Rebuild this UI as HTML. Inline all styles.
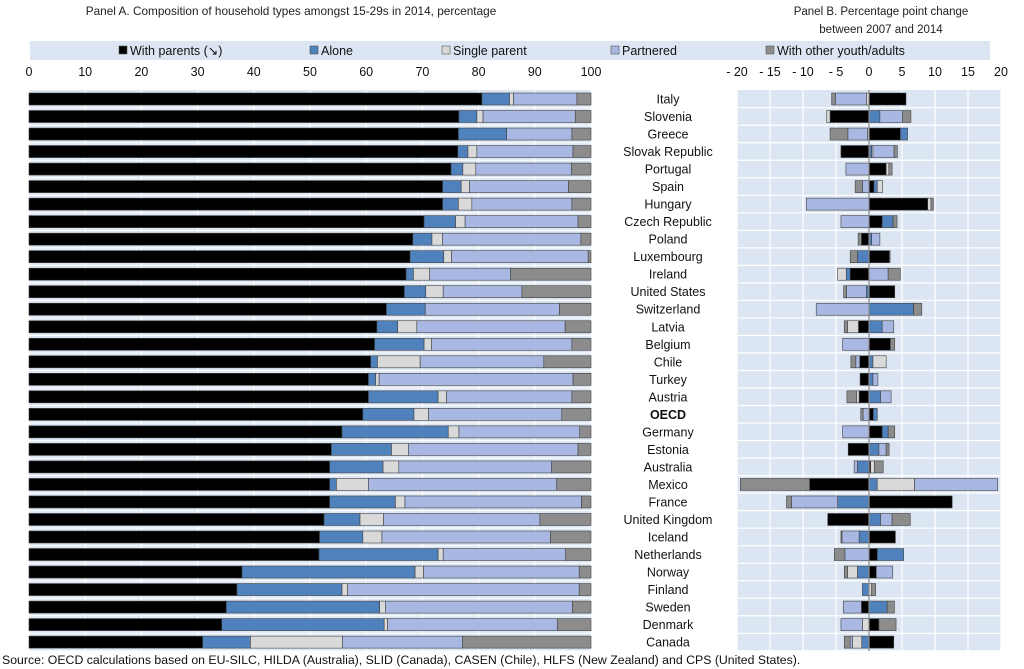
<!DOCTYPE html>
<html><head><meta charset="utf-8">
<style>
body{margin:0;background:#fff;width:1024px;height:669px;overflow:hidden;font-family:"Liberation Sans",sans-serif}
svg{display:block}
</style></head>
<body>
<svg id="chart" width="1024" height="669" xmlns="http://www.w3.org/2000/svg"></svg>
<script>
const countries=["Italy","Slovenia","Greece","Slovak Republic","Portugal","Spain","Hungary","Czech Republic","Poland","Luxembourg","Ireland","United States","Switzerland","Latvia","Belgium","Chile","Turkey","Austria","OECD","Germany","Estonia","Australia","Mexico","France","United Kingdom","Iceland","Netherlands","Norway","Finland","Sweden","Denmark","Canada"];
const seriesNames=["With parents (\u2198)","Alone","Single parent","Partnered","With other youth/adults"];
const seriesKeys=["parents","alone","single","partnered","other"];
// Panel A: cumulative end points (percent) per series; last series ends at 100
const cumParents=[80.6,76.5,76.4,76.3,75.1,73.6,73.6,70.3,68.3,67.8,67.1,66.8,63.6,61.9,61.5,60.8,60.4,60.4,59.4,55.7,53.8,53.5,53.5,53.5,52.5,51.7,51.6,37.9,37.0,35.1,34.3,30.9];
const cumAlone=[85.5,79.7,85.0,78.1,77.2,76.9,76.4,75.9,71.7,73.8,68.4,70.6,70.5,65.6,70.3,62.0,61.7,72.8,68.5,74.6,64.5,63.0,54.7,65.2,58.9,59.4,72.8,68.7,55.7,62.4,63.2,39.4];
const cumSingle=[86.2,80.8,85.0,79.7,79.5,78.4,78.8,77.6,73.6,75.2,71.3,73.7,70.5,69.0,71.6,69.6,62.3,74.3,71.1,76.5,67.5,65.8,60.4,66.9,63.1,62.8,73.7,70.2,56.7,63.4,63.8,55.8];
const cumPartnered=[97.5,97.2,96.6,96.8,96.5,96.0,96.6,97.7,98.2,99.5,85.7,87.7,94.4,95.4,96.6,91.6,96.8,96.6,94.8,98.0,97.7,93.0,93.9,98.3,90.9,92.8,95.5,97.9,97.9,96.7,94.0,77.1];
// Panel B: percentage point changes 2007-2014
const chgParents=[5.6,-5.9,4.75,-4.25,2.6,0.75,8.9,2.0,-1.15,3.1,-2.85,3.9,0,-1.6,3.25,-1.4,-1.35,-1.5,0.65,2.0,-3.15,0.25,-9.0,12.6,-6.25,4.0,1.25,1.1,0,-1.15,1.5,3.75];
const chgAlone=[0,1.65,1.1,0.4,0,0.5,0,1.65,0.4,-1.75,-0.6,-0.4,6.75,2.0,0,0.6,0.6,1.75,0.6,0.9,1.5,-1.75,1.25,-4.75,1.75,-1.5,4.0,-1.75,-1.0,2.75,0,-1.1];
const chgSingle=[-0.4,-0.5,-0.2,0.2,0.4,0.8,0.5,0,0,0.1,-1.3,0,0,-1.65,0,2.0,0,-0.4,0,0,0,0.6,5.65,0,0,0,0,-1.5,0.4,0,-1.0,-1.4];
const chgPartnered=[-4.7,3.45,-3.0,3.2,-3.5,-1.0,-9.5,-4.25,1.25,0,2.9,-3.0,-8.0,1.75,-4.0,-0.6,0.75,1.6,-0.9,-4.0,1.1,-0.5,12.6,-7.0,1.75,-2.6,-3.65,2.5,0,-2.75,-3.25,-0.35];
const chgOther=[-0.55,1.25,-2.7,0.5,0.5,-1.1,0.35,0.6,-0.5,-1.1,1.85,-0.45,1.25,-0.5,0.65,-0.75,0,-1.45,-0.35,1.0,0.45,1.3,-10.5,-0.75,2.75,-0.15,-1.6,-0.5,0.6,1.1,2.6,-0.9];
const ticksA=[0,10,20,30,40,50,60,70,80,90,100];
const ticksB=[-20,-15,-10,-5,0,5,10,15,20];

const NS="http://www.w3.org/2000/svg";
const svg=document.getElementById('chart');
const colors=["#000000","#4f81bd","#d9d9d9","#a8b8e3","#8c8c8c"];
function mk(tag,attrs,parent){const e=document.createElementNS(NS,tag);for(const k in attrs)e.setAttribute(k,attrs[k]);(parent||svg).appendChild(e);return e;}
function txt(s,attrs,parent){const e=mk('text',attrs,parent);e.textContent=s;return e;}
const xA=v=>29+v*5.62;
const xB=v=>869+v*6.6;
const rowY=i=>99+i*17.52;
const barH=12;
const plotTop=90,plotBot=651;

let t=txt("Panel A. Composition of household types amongst 15-29s in 2014, percentage",{x:291,y:15,'text-anchor':'middle','font-size':11.8,fill:'#222'});


t=txt("Panel B. Percentage point change",{x:881,y:15,'text-anchor':'middle','font-size':11.5,fill:'#222'});


t=txt("between 2007 and 2014",{x:881,y:33,'text-anchor':'middle','font-size':11.5,fill:'#222'});



const lg=mk('g',{});


mk('rect',{x:30,y:41,width:960,height:19,fill:'#dce6f2'},lg);
const legX=[119,310,442,611,766];
seriesNames.forEach((n,k)=>{
  const g=mk('g',{},lg);
  
  
  mk('rect',{x:legX[k],y:46,width:8,height:8,fill:colors[k],stroke:'#555','stroke-width':0.6},g);
  txt(n,{x:legX[k]+11,y:55,'font-size':12.5,fill:'#111'},g);
});

const pa=mk('g',{});


mk('rect',{x:xA(0),y:plotTop,width:xA(100)-xA(0),height:plotBot-plotTop,fill:'#dce6f2'},pa);
ticksA.forEach(v=>{
  const l=mk('line',{x1:xA(v),x2:xA(v),y1:plotTop,y2:plotBot,stroke:'#fff','stroke-width':1},pa);
  
  
  const tl=txt(String(v),{x:xA(v),y:76,'text-anchor':'middle','font-size':12.5,fill:'#111'});
  
  
});
countries.forEach((c,i)=>{
  const y=rowY(i);
  mk('line',{x1:xA(0),x2:xA(100),y1:y+8.7,y2:y+8.7,stroke:'#fff','stroke-width':1},pa);
});
countries.forEach((c,i)=>{
  const y=rowY(i);
  const ends=[cumParents[i],cumAlone[i],cumSingle[i],cumPartnered[i],100];
  let prev=0;
  ends.forEach((e,k)=>{
    if(e>prev){
      const r=mk('rect',{x:xA(prev),y:y-barH/2,width:xA(e)-xA(prev),height:barH,fill:colors[k],stroke:'#404040','stroke-width':0.6},pa);
      
      
    }
    prev=e;
  });
});

countries.forEach((c,i)=>{
  const l=txt(c,{x:668,y:rowY(i)+4.5,'text-anchor':'middle','font-size':12.5,fill:'#111','font-weight':c==='OECD'?'bold':'normal'});
  
  
});

const pb=mk('g',{});


mk('rect',{x:xB(-20),y:plotTop,width:xB(20)-xB(-20),height:plotBot-plotTop,fill:'#dce6f2'},pb);
ticksB.forEach(v=>{
  if(v!==0){const l=mk('line',{x1:xB(v),x2:xB(v),y1:plotTop,y2:plotBot,stroke:'#fff','stroke-width':1.2},pb);
  
  }
  const lab=v<0?'- '+Math.abs(v):String(v);
  const tl=txt(lab,{x:xB(v),y:76,'text-anchor':'middle','font-size':12.5,fill:'#111'});
  
  
});
countries.forEach((c,i)=>{
  mk('line',{x1:xB(-20),x2:xB(20),y1:rowY(i)+8.7,y2:rowY(i)+8.7,stroke:'#fff','stroke-width':1.2},pb);
});
const chg=[chgParents,chgAlone,chgSingle,chgPartnered,chgOther];
countries.forEach((c,i)=>{
  const y=rowY(i);
  let pos=0,neg=0;
  chg.forEach((arr,k)=>{
    const v=arr[i];
    if(v===0)return;
    let a,b;
    if(v>0){a=pos;b=pos+v;pos=b;}else{a=neg+v;b=neg;neg=a;}
    const r=mk('rect',{x:xB(a),y:y-barH/2,width:xB(b)-xB(a),height:barH,fill:colors[k],stroke:'#404040','stroke-width':0.6},pb);
    
    
  });
});
const zl=mk('line',{x1:xB(0),x2:xB(0),y1:plotTop,y2:plotBot,stroke:'#8a8a8a','stroke-width':1.2},pb);



t=txt("Source: OECD calculations based on EU-SILC, HILDA (Australia), SLID (Canada), CASEN (Chile), HLFS (New Zealand) and CPS (United States).",{x:2,y:664,'font-size':12.3,fill:'#111'});


</script>
</body></html>
